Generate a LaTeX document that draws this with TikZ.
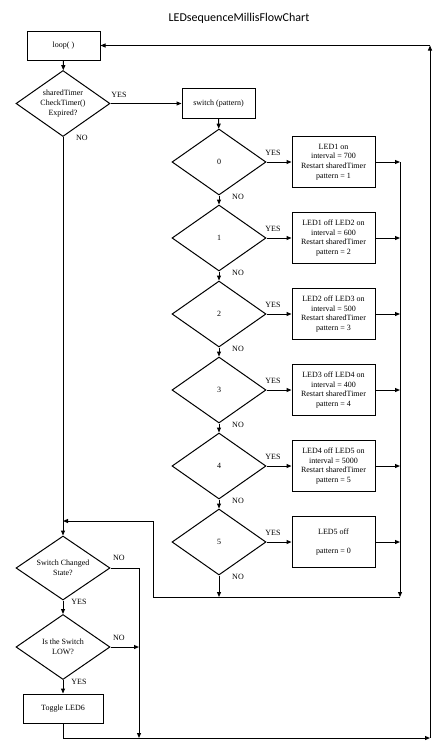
\documentclass[tikz,border=0pt]{standalone}
\usepackage{fontspec}
\setmainfont{Liberation Serif}
\newfontfamily\titlefont{Carlito}
\usetikzlibrary{arrows.meta,shapes.geometric}
\begin{document}
\begin{tikzpicture}[x=1pt,y=-1pt,
  line width=1pt,
  every node/.style={font=\fontsize{8}{9.6}\selectfont},
  casebox/.style={draw,align=center,minimum width=83pt,minimum height=51pt,inner sep=0pt},
  smallbox/.style={draw,align=center,minimum height=29pt,inner sep=0pt},
  dec/.style={draw,diamond,aspect=1.42,minimum width=94pt,minimum height=66pt,inner sep=0pt,align=center},
  arr/.style={-{Triangle[length=5pt,width=4pt]}},
  lbl/.style={inner sep=0pt}]
\path[use as bounding box,fill=white] (0,0) rectangle (444,750);

\node[font=\titlefont\fontsize{12}{14}\selectfont] (title) at (239,18) {LEDsequenceMillisFlowChart};

% left column
\node[smallbox,minimum width=73pt] (loop) at (63.5,45.5) {loop( )};
\node[dec] (chk) at (63,103.5) {sharedTimer\\CheckTimer()\\Expired?};
\node[smallbox,minimum width=73pt,minimum height=30pt] (sw) at (218.5,103.5) {switch (pattern)};
\node[dec,minimum height=64pt] (swc) at (63,568) {Switch Changed\\State?};
\node[dec,minimum height=65pt] (low) at (63,647) {Is the Switch\\LOW?};
\node[smallbox,minimum width=80pt] (tog) at (63,708.5) {Toggle LED6};

% case diamonds
\node[dec] (c0) at (219,162) {0};
\node[dec] (c1) at (219,238) {1};
\node[dec] (c2) at (219,314) {2};
\node[dec] (c3) at (219,390) {3};
\node[dec] (c4) at (219,466) {4};
\node[dec] (c5) at (219,542) {5};

% case boxes
\node[casebox] (b0) at (333.5,162) {LED1 on\\interval = 700\\Restart sharedTimer\\pattern = 1};
\node[casebox] (b1) at (333.5,238) {LED1 off LED2 on\\interval = 600\\Restart sharedTimer\\pattern = 2};
\node[casebox] (b2) at (333.5,314) {LED2 off LED3 on\\interval = 500\\Restart sharedTimer\\pattern = 3};
\node[casebox] (b3) at (333.5,390) {LED3 off LED4 on\\interval = 400\\Restart sharedTimer\\pattern = 4};
\node[casebox] (b4) at (333.5,466) {LED4 off LED5 on\\interval = 5000\\Restart sharedTimer\\pattern = 5};
\node[casebox] (b5) at (333.5,542) {LED5 off\\\mbox{}\\pattern = 0};

% coordinates
\coordinate (m0) at (400,162);
\coordinate (m1) at (400,238);
\coordinate (m2) at (400,314);
\coordinate (m3) at (400,390);
\coordinate (m4) at (400,466);
\coordinate (m5) at (400,542);
\coordinate (mb) at (400,597);
\coordinate (c5b) at (219,597);
\coordinate (rb) at (153,597);
\coordinate (rt) at (153,521);
\coordinate (rj) at (63,521);
\coordinate (nx) at (139,568);
\coordinate (nl) at (139,647);
\coordinate (nb) at (139,738);
\coordinate (tb) at (63,738);
\coordinate (br) at (430,738);
\coordinate (tr) at (430,45.5);

% connectors
\draw[arr] (loop) -- (chk);
\draw[arr] (chk.east) -- (sw.west);
\draw[arr] (chk.south) -- (swc.north);
\draw[arr] (sw) -- (c0);
\draw[arr] (c0) -- (c1);
\draw[arr] (c1) -- (c2);
\draw[arr] (c2) -- (c3);
\draw[arr] (c3) -- (c4);
\draw[arr] (c4) -- (c5);
\draw[arr] (c5.south) -- (c5b);
\foreach \i in {0,...,5}{
  \draw[arr] (c\i.east) -- (b\i.west);
  \draw[arr] (b\i.east) -- (m\i);
}
\draw[arr] (m0) -- (mb);
\draw[arr] (mb) -- (rb) -- (rt) -- (rj);
\draw[arr] (swc.east) -- (nx) -- (nb);
\draw[arr] (low.east) -- (nl);
\draw[arr] (swc) -- (low);
\draw[arr] (low) -- (tog);
\draw[arr] (tog.south) -- (tb) -- (br);
\draw[arr] (br) -- (tr);
\draw[arr] (tr) -- (loop.east);

% labels
\node[lbl] (ly0) at (119,95) {YES};
\node[lbl] (ln0) at (82,138) {NO};
\foreach \y/\n in {162/a,238/b,314/c,390/d,466/e,542/f}{
  \node[lbl] (ly\n) at (273,\y-9) {YES};
  \node[lbl] (ln\n) at (238,\y+35) {NO};
}
\node[lbl] (lswn) at (119,558) {NO};
\node[lbl] (lswy) at (79,602) {YES};
\node[lbl] (llown) at (119,638) {NO};
\node[lbl] (llowy) at (79,682) {YES};
\end{tikzpicture}
\end{document}
